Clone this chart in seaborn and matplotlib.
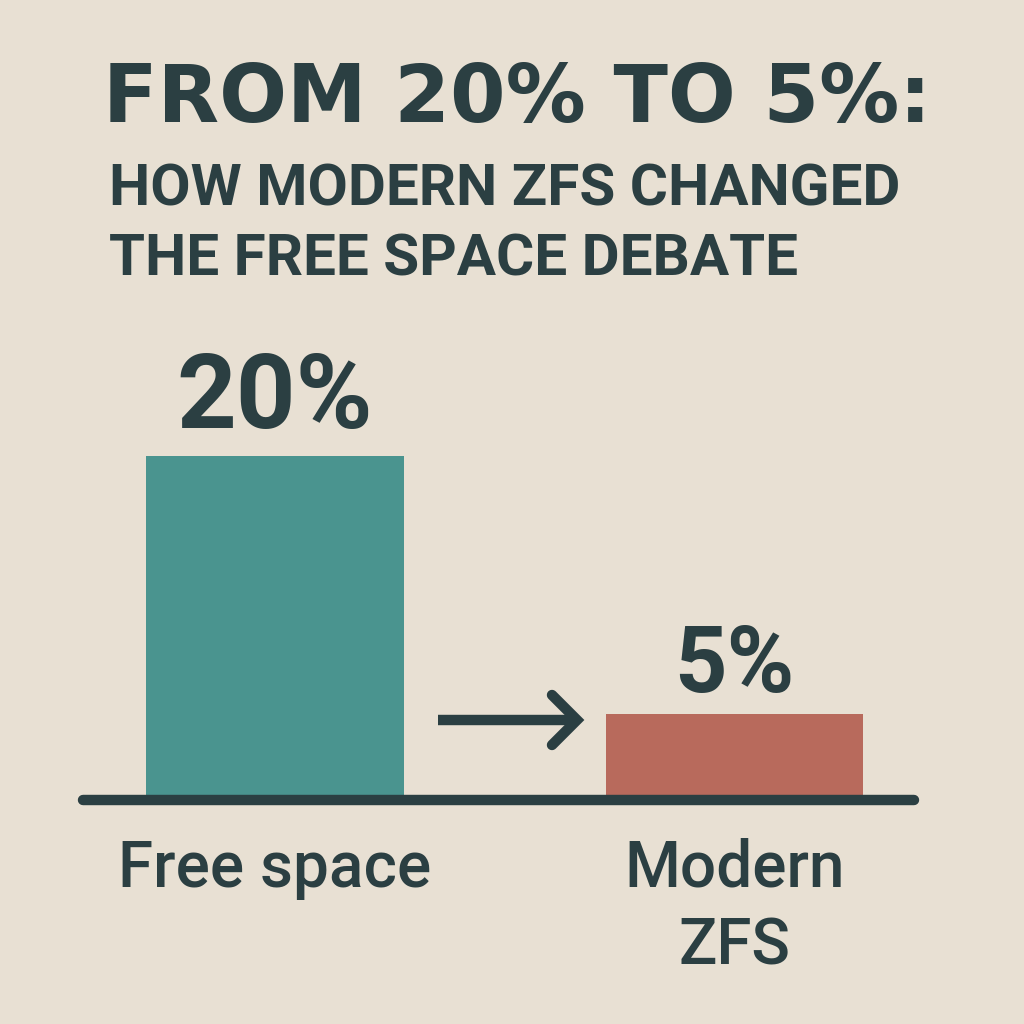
import matplotlib
matplotlib.use("Agg")
import matplotlib.pyplot as plt
import seaborn as sns
import pandas as pd
from matplotlib.lines import Line2D

categories = ["Free space", "Modern\nZFS"]
values = [20, 5]
value_labels = ["20%", "5%"]
title_line1 = "FROM 20% TO 5%:"
title_line2 = "HOW MODERN ZFS CHANGED"
title_line3 = "THE FREE SPACE DEBATE"

BG = "#E8E0D3"
INK = "#2B3F42"
colors = ["#4A948F", "#B86A5C"]

sns.set_theme(style="white")
plt.rcParams["font.family"] = ["Roboto", "DejaVu Sans"]

df = pd.DataFrame({"cat": categories, "val": values})

fig = plt.figure(figsize=(10.24, 10.24), dpi=100, facecolor=BG)
ax = fig.add_axes([83 / 1024, 1 - 800 / 1024, 831 / 1024, 430 / 1024])
ax.set_facecolor(BG)

sns.barplot(data=df, x="cat", y="val", hue="cat", palette=colors,
            width=0.56, legend=False, ax=ax, saturation=1, linewidth=0,
            edgecolor="none")

ax.set_xlim(-0.418, 1.39)
ax.set_ylim(0, 25)
for s in ax.spines.values():
    s.set_visible(False)
ax.set_yticks([])
ax.set_xlabel("")
ax.set_ylabel("")
ax.set_xticks([])

ax.axhline(0, color=INK, lw=7.5, solid_capstyle="round", clip_on=False, zorder=5)

sizes = [75, 66]
offsets = [5, 2]
for i, (v, lab) in enumerate(zip(values, value_labels)):
    ax.annotate(lab, xy=(i, v), xytext=(0, offsets[i]),
                textcoords="offset points", ha="center", va="bottom",
                fontsize=sizes[i], fontweight="bold", color=INK)

for i, c in enumerate(categories):
    ax.text(i, -2.2, c, ha="center", va="top", fontsize=46, color=INK,
            fontweight=500, linespacing=1.32, transform=ax.transData)

# arrow
fig.add_artist(Line2D([438 / 1024, 578 / 1024], [1 - 720 / 1024, 1 - 720 / 1024],
                      color=INK, lw=7.5, solid_capstyle="butt"))
fig.add_artist(Line2D([552 / 1024, 577 / 1024, 552 / 1024],
                      [1 - 695 / 1024, 1 - 720 / 1024, 1 - 745 / 1024],
                      color=INK, lw=7.5, solid_capstyle="round", solid_joinstyle="miter"))

fig.text(103 / 1024, 1 - 122 / 1024, title_line1, ha="left", va="baseline",
         fontsize=57.5, fontweight="bold", color=INK, family=["DejaVu Sans"])
fig.text(109 / 1024, 1 - 205 / 1024, title_line2, ha="left", va="baseline",
         fontsize=42, fontweight="bold", color=INK)
fig.text(109 / 1024, 1 - 276 / 1024, title_line3, ha="left", va="baseline",
         fontsize=42, fontweight="bold", color=INK)

fig.savefig("out.png", dpi=100, facecolor=BG)
